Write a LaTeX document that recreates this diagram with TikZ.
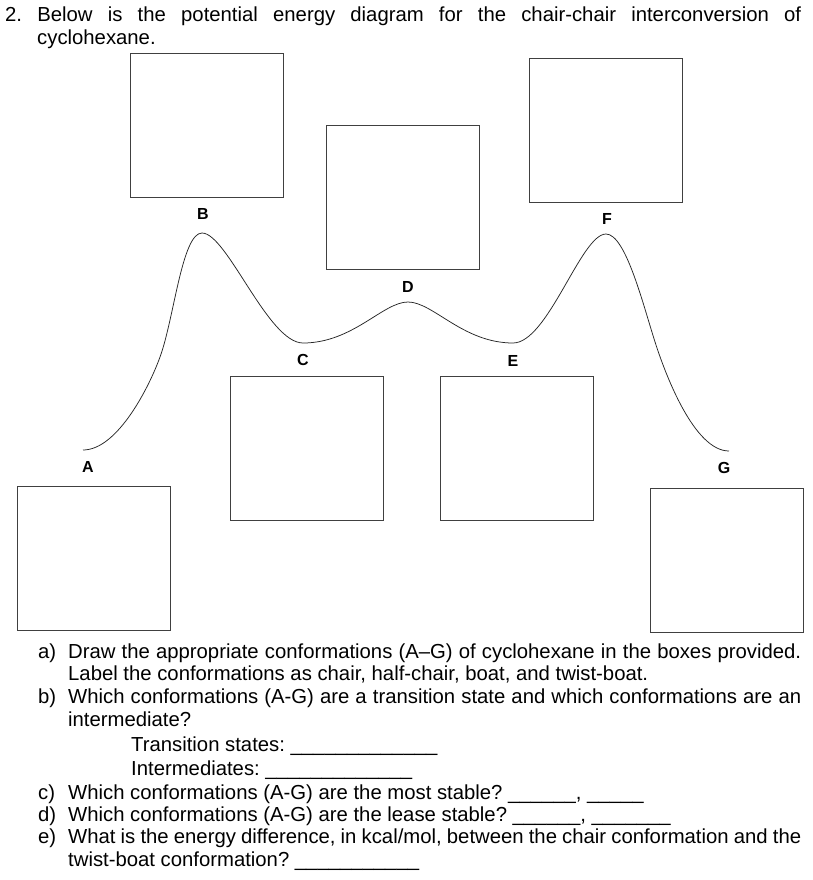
\documentclass[tikz,border=0pt]{standalone}
\usepackage{fontspec}
\setmainfont{Liberation Sans}
\usepackage{tikz}
\usetikzlibrary{calc}
\frenchspacing

\begin{document}
\begin{tikzpicture}[
      x=1pt, y=-1pt,
      cbox/.style={draw=black!75, line width=0.9pt, minimum width=153pt,
        minimum height=144pt, inner sep=0pt},
      lbl/.style={font=\fontsize{16}{16}\selectfont\bfseries, inner sep=0pt},
      txt/.style={anchor=base west, inner sep=0pt, font=\fontsize{20.3}{23}\selectfont},
      curve/.style={black!85, line width=0.75pt}
    ]
    \useasboundingbox (0,0) rectangle (812,880);
    % ---------------- question ----------------
    \node[txt] (q1) at (5,22) {\makebox[796pt][s]{2. Below is the potential energy diagram for the chair-chair interconversion of}};
    \node[txt] (q2) at (37,45) {cyclohexane.};
    % ---------------- boxes ----------------
    \node[cbox] (boxA) at (93.5,558) {};
    \node[cbox] (boxB) at (206.5,125) {};
    \node[cbox] (boxC) at (306.5,448) {};
    \node[cbox] (boxD) at (402.5,197) {};
    \node[cbox] (boxE) at (516.5,448) {};
    \node[cbox] (boxF) at (606,130) {};
    \node[cbox] (boxG) at (726.5,560) {};
    % ---------------- energy curve ----------------
    \coordinate (pA) at (83,450);
    \coordinate (pB) at (202,233);
    \coordinate (pC) at (303,343);
    \coordinate (pD) at (408,302);
    \coordinate (pE) at (513,343);
    \coordinate (pF) at (606,234);
    \coordinate (pG) at (729,451);
    \draw[curve] (pA) .. controls (118,450) and (150,385) .. (160,357)
      .. controls (174,319) and (182,233) .. (pB)
      .. controls (227,233) and (268,343) .. (pC)
      .. controls (353,343) and (383,302) .. (pD)
      .. controls (433,302) and (463,343) .. (pE)
      .. controls (548,343) and (581,234) .. (pF)
      .. controls (626,234) and (643.6,307) .. (656,345)
      .. controls (665.3,373.5) and (694,451) .. (pG);
    \node[lbl] (labA) at (88,467) {A};
    \node[lbl] (labB) at (203,214) {B};
    \node[lbl] (labC) at (303,360) {C};
    \node[lbl] (labD) at (408,287) {D};
    \node[lbl] (labE) at (513,361) {E};
    \node[lbl] (labF) at (607,219) {F};
    \node[lbl] (labG) at (724,467.5) {G};
    % ---------------- parts a) to e) ----------------
    \node[txt] (ma) at (38,658) {a)};
    \node[txt] (ta1) at (68,658) {\makebox[733pt][s]{Draw the appropriate conformations (A--G) of cyclohexane in the boxes provided.}};
    \node[txt] (ta2) at (68,680.5) {Label the conformations as chair, half-chair, boat, and twist-boat.};
    \node[txt] (mb) at (38,703) {b)};
    \node[txt] (tb1) at (68,703) {\makebox[733pt][s]{Which conformations (A-G) are a transition state and which conformations are an}};
    \node[txt] (tb2) at (68,726.5) {intermediate?};
    \node[txt] (tb3) at (131,751.5) {Transition states: \_\_\_\_\_\_\_\_\_\_\_\_\_};
    \node[txt] (tb4) at (131,775.5) {Intermediates: \_\_\_\_\_\_\_\_\_\_\_\_\_};
    \node[txt] (mc) at (38,799) {c)};
    \node[txt] (tc) at (68,799) {Which conformations (A-G) are the most stable? \_\_\_\_\_\_, \_\_\_\_\_};
    \node[txt] (md) at (38,821) {d)};
    \node[txt] (td) at (68,821) {Which conformations (A-G) are the lease stable? \_\_\_\_\_\_, \_\_\_\_\_\_\_};
    \node[txt] (me) at (38,843.5) {e)};
    \node[txt] (te1) at (68,843.5) {\makebox[733pt][s]{What is the energy difference, in kcal/mol, between the chair conformation and the}};
    \node[txt] (te2) at (68,866.5) {twist-boat conformation? \_\_\_\_\_\_\_\_\_\_\_};
  \end{tikzpicture}
\end{document}
